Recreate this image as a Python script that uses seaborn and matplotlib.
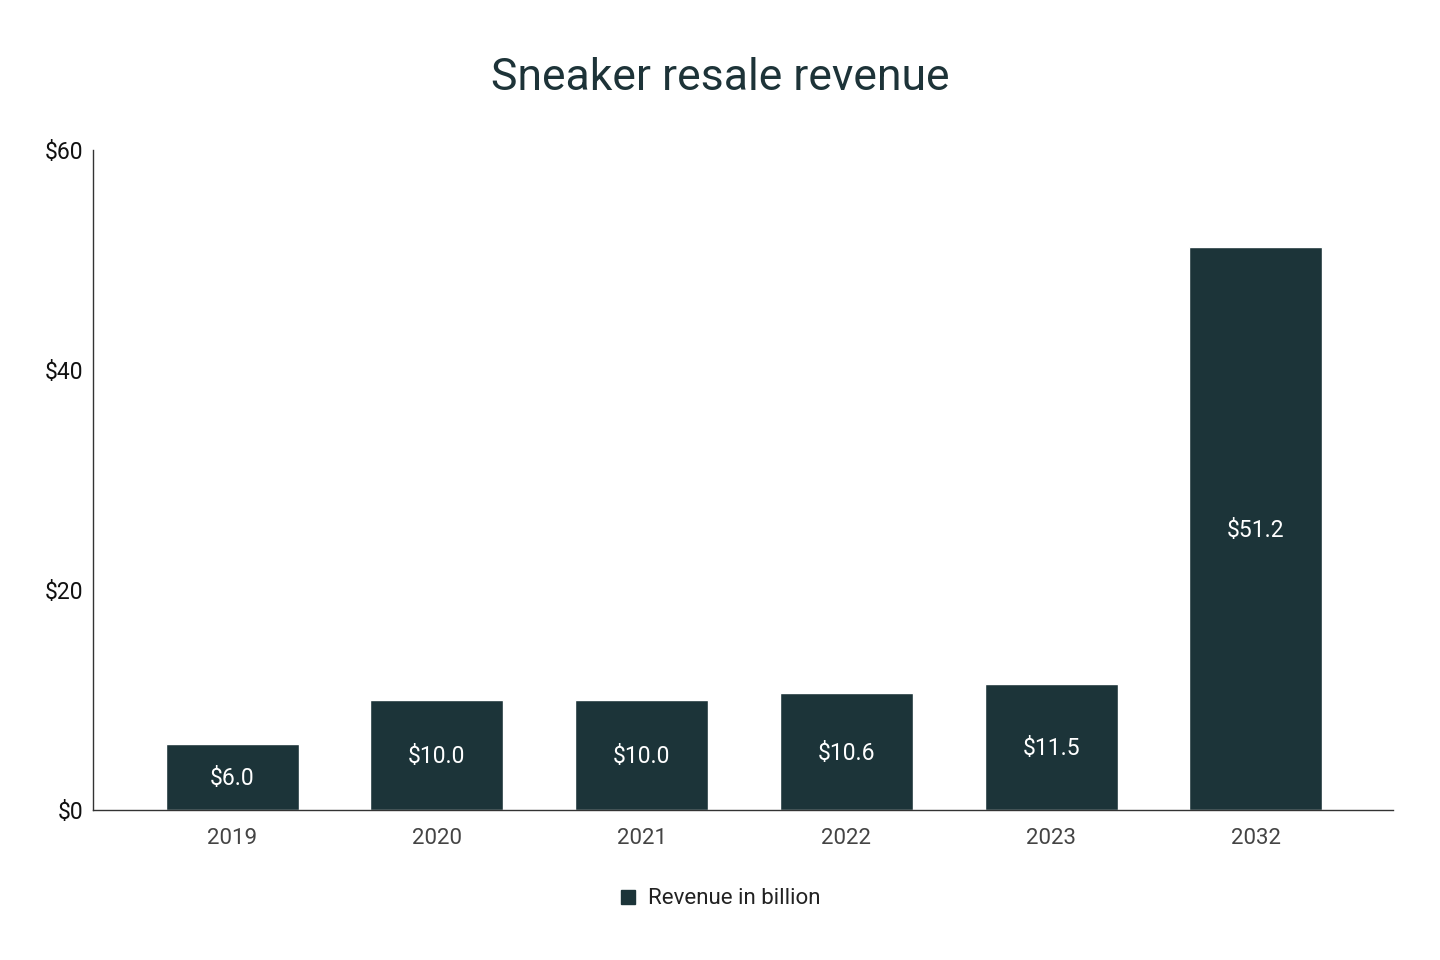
import matplotlib
matplotlib.use("Agg")
import matplotlib.pyplot as plt
import seaborn as sns
import pandas as pd
from matplotlib.lines import Line2D

years = ["2019", "2020", "2021", "2022", "2023", "2032"]
revenue = [6.0, 10.0, 10.0, 10.6, 11.5, 51.2]
y_ticks = [0, 20, 40, 60]
series_name = "Revenue in billion"
title = "Sneaker resale revenue"

df = pd.DataFrame({"year": years, "revenue": revenue, "series": series_name})

sns.set_theme(style="white")
plt.rcParams["font.family"] = ["Roboto", "DejaVu Sans"]

bar_color = "#1c3439"
fig = plt.figure(figsize=(14.4, 9.6), dpi=100)
ax = fig.add_axes([93/1440, 1-810/960, 1300/1440, 660/960])

sns.barplot(data=df, x="year", y="revenue", hue="series", palette=[bar_color],
            width=0.65, ax=ax, saturation=1, legend=False)

for p, v in zip(ax.patches, revenue):
    ax.text(p.get_x() + p.get_width()/2, v/2 - 0.15, f"${v:.1f}", ha="center", va="center",
            color="white", fontsize=16.5)

ax.set_ylim(0, 60)
ax.set_xlim(-0.68, len(years) - 1 + 0.67)
ax.set_yticks(y_ticks)
ax.set_yticklabels([f"${t}" for t in y_ticks])
ax.tick_params(axis="y", labelsize=16.5, labelcolor="#111111", length=0, pad=7)
ax.tick_params(axis="x", labelsize=16, labelcolor="#444444", length=0, pad=13)
ax.set_xlabel("")
ax.set_ylabel("")
for s in ["top", "right"]:
    ax.spines[s].set_visible(False)
ax.spines["left"].set_color("#333333")
ax.spines["bottom"].set_color("#333333")
ax.spines["left"].set_linewidth(1)
ax.spines["bottom"].set_linewidth(1)
ax.grid(False)

fig.text(0.5, 1-78/960, title, ha="center", va="center", fontsize=32, color="#1d3338")

handle = Line2D([], [], marker="s", linestyle="none", markersize=10.5, color=bar_color)
fig.legend([handle], [series_name], loc="center", bbox_to_anchor=(0.5 - 7/1440, 1-899/960),
           frameon=False, fontsize=16, handletextpad=-0.1, labelcolor="#222222")

fig.savefig("out.png", dpi=100)
